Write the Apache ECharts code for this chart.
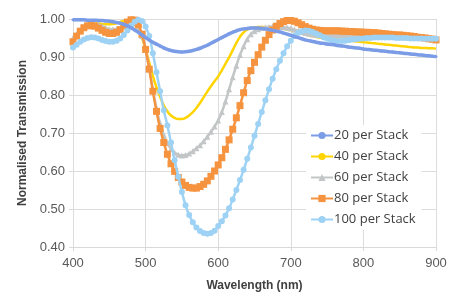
<!DOCTYPE html>
<html>
<head>
<meta charset="utf-8">
<script src="https://cdn.jsdelivr.net/npm/echarts@6/dist/echarts.min.js"></script>
<style>
html, body { margin: 0; padding: 0; background: #fff; }
#chart { width: 468px; height: 297px; }
</style>
</head>
<body>
<div id="chart"></div>
<script>
// wavelength grid, 5 nm steps
var wavelengths = [];
for (var w = 400; w <= 900; w += 5) wavelengths.push(w);

var xTicks = [400, 500, 600, 700, 800, 900];
var yTicks = [0.40, 0.50, 0.60, 0.70, 0.80, 0.90, 1.00];

var stack20 = [
	0.998, 0.998, 0.998, 0.998, 0.997, 0.997, 0.997, 0.996, 0.996, 0.995,
	0.994, 0.993, 0.991, 0.989, 0.986, 0.982, 0.977, 0.971, 0.965, 0.958,
	0.951, 0.945, 0.939, 0.934, 0.929, 0.924, 0.920, 0.917, 0.915, 0.914,
	0.913, 0.914, 0.915, 0.917, 0.920, 0.923, 0.927, 0.931, 0.936, 0.941,
	0.946, 0.951, 0.956, 0.961, 0.965, 0.969, 0.972, 0.974, 0.975, 0.976,
	0.976, 0.976, 0.975, 0.974, 0.972, 0.970, 0.968, 0.966, 0.963, 0.960,
	0.957, 0.954, 0.951, 0.948, 0.945, 0.943, 0.941, 0.939, 0.937, 0.936,
	0.934, 0.933, 0.932, 0.930, 0.929, 0.928, 0.926, 0.925, 0.924, 0.923,
	0.921, 0.920, 0.919, 0.918, 0.917, 0.916, 0.915, 0.914, 0.913, 0.912,
	0.911, 0.910, 0.909, 0.908, 0.907, 0.906, 0.905, 0.904, 0.903, 0.902,
	0.901
];
var stack40 = [
	0.948, 0.958, 0.968, 0.976, 0.982, 0.986, 0.988, 0.988, 0.987, 0.986,
	0.986, 0.987, 0.989, 0.992, 0.995, 0.997, 0.996, 0.990, 0.975, 0.950,
	0.920, 0.885, 0.850, 0.820, 0.795, 0.773, 0.757, 0.746, 0.740, 0.737,
	0.737, 0.740, 0.746, 0.755, 0.766, 0.779, 0.794, 0.809, 0.823, 0.836,
	0.849, 0.865, 0.882, 0.899, 0.918, 0.937, 0.953, 0.965, 0.972, 0.976,
	0.978, 0.979, 0.979, 0.979, 0.978, 0.978, 0.977, 0.976, 0.975, 0.973,
	0.971, 0.969, 0.966, 0.963, 0.960, 0.957, 0.955, 0.953, 0.951, 0.950,
	0.949, 0.948, 0.947, 0.946, 0.945, 0.944, 0.943, 0.942, 0.941, 0.940,
	0.939, 0.938, 0.937, 0.936, 0.935, 0.934, 0.933, 0.932, 0.931, 0.930,
	0.929, 0.928, 0.927, 0.926, 0.925, 0.925, 0.924, 0.924, 0.923, 0.923,
	0.922
];
var stack60 = [
	0.950, 0.960, 0.970, 0.978, 0.984, 0.987, 0.987, 0.985, 0.981, 0.977,
	0.974, 0.973, 0.974, 0.977, 0.982, 0.987, 0.990, 0.988, 0.978, 0.955,
	0.920, 0.870, 0.815, 0.765, 0.725, 0.695, 0.673, 0.658, 0.648, 0.643,
	0.641, 0.642, 0.646, 0.652, 0.660, 0.668, 0.678, 0.690, 0.703, 0.717,
	0.733, 0.755, 0.783, 0.815, 0.847, 0.877, 0.905, 0.928, 0.947, 0.960,
	0.968, 0.973, 0.976, 0.978, 0.979, 0.980, 0.980, 0.979, 0.978, 0.977,
	0.975, 0.972, 0.969, 0.966, 0.963, 0.961, 0.959, 0.958, 0.957, 0.957,
	0.957, 0.957, 0.957, 0.958, 0.958, 0.958, 0.958, 0.958, 0.958, 0.958,
	0.958, 0.958, 0.957, 0.957, 0.956, 0.956, 0.955, 0.955, 0.954, 0.954,
	0.953, 0.953, 0.952, 0.952, 0.951, 0.951, 0.950, 0.950, 0.949, 0.949,
	0.948
];
var stack80 = [
	0.940, 0.955, 0.968, 0.977, 0.982, 0.983, 0.981, 0.976, 0.970, 0.965,
	0.962, 0.962, 0.965, 0.972, 0.982, 0.992, 0.998, 0.997, 0.985, 0.960,
	0.920, 0.868, 0.810, 0.757, 0.712, 0.675, 0.644, 0.619, 0.599, 0.583,
	0.571, 0.562, 0.557, 0.555, 0.555, 0.559, 0.565, 0.574, 0.586, 0.600,
	0.616, 0.635, 0.657, 0.682, 0.710, 0.740, 0.772, 0.806, 0.838, 0.864,
	0.886, 0.906, 0.926, 0.944, 0.959, 0.971, 0.981, 0.988, 0.993, 0.996,
	0.996, 0.994, 0.990, 0.985, 0.980, 0.976, 0.973, 0.971, 0.970, 0.969,
	0.969, 0.969, 0.969, 0.969, 0.968, 0.968, 0.967, 0.967, 0.966, 0.966,
	0.965, 0.965, 0.964, 0.964, 0.963, 0.962, 0.961, 0.960, 0.959, 0.958,
	0.958, 0.957, 0.956, 0.955, 0.954, 0.952, 0.951, 0.950, 0.948, 0.947,
	0.945
];
var stack100 = [
	0.925, 0.932, 0.940, 0.946, 0.950, 0.952, 0.951, 0.949, 0.945, 0.942,
	0.940, 0.940, 0.943, 0.949, 0.958, 0.970, 0.983, 0.993, 0.998, 0.995,
	0.980, 0.955, 0.910, 0.860, 0.810, 0.760, 0.720, 0.675, 0.628, 0.585,
	0.545, 0.510, 0.484, 0.465, 0.451, 0.442, 0.437, 0.435, 0.437, 0.443,
	0.455, 0.468, 0.483, 0.502, 0.525, 0.550, 0.576, 0.603, 0.632, 0.662,
	0.693, 0.724, 0.755, 0.786, 0.815, 0.843, 0.868, 0.890, 0.910, 0.928,
	0.943, 0.955, 0.963, 0.968, 0.970, 0.969, 0.966, 0.962, 0.957, 0.952,
	0.948, 0.945, 0.943, 0.942, 0.942, 0.943, 0.944, 0.946, 0.947, 0.948,
	0.949, 0.950, 0.950, 0.951, 0.951, 0.951, 0.951, 0.951, 0.951, 0.950,
	0.950, 0.950, 0.950, 0.949, 0.949, 0.949, 0.949, 0.948, 0.948, 0.948,
	0.948
];

function pairs(vals) {
	return wavelengths.map(function(w, i) { return [w, vals[i]]; });
}

function makeSeries(name, vals, color, symbol, size, width, z) {
	return {
		name: name,
		type: 'line',
		smooth: true,
		data: pairs(vals),
		symbol: symbol,
		symbolSize: size,
		showSymbol: symbol !== 'none',
		z: z,
		lineStyle: { color: color, width: width },
		itemStyle: { color: color },
		emphasis: { disabled: true }
	};
}

var chart = echarts.init(document.getElementById('chart'), null, { renderer: 'canvas' });
chart.setOption({
	animation: false,
	backgroundColor: '#fff',
	textStyle: { fontFamily: 'Liberation Sans' },
	grid: { left: 73, right: 32, top: 19, bottom: 46 },
	legend: {
		orient: 'vertical',
		left: 306,
		top: 125,
		itemWidth: 22,
		itemHeight: 9,
		itemGap: 8,
		padding: [4, 6, 4, 4],
		backgroundColor: '#fff',
		textStyle: { fontFamily: 'Open Sans', fontSize: 13, color: '#404040', padding: [0, 0, 0, -4] },
		data: ['20 per Stack', '40 per Stack', '60 per Stack', '80 per Stack', '100 per Stack']
	},
	xAxis: {
		type: 'value',
		min: xTicks[0],
		max: xTicks[xTicks.length - 1],
		interval: 100,
		name: 'Wavelength (nm)',
		nameLocation: 'middle',
		nameGap: 33,
		nameTextStyle: { fontWeight: 'bold', fontSize: 12, color: '#404040' },
		axisLine: { lineStyle: { color: '#d9d9d9' } },
		axisTick: { show: true, length: 4, lineStyle: { color: '#d9d9d9' } },
		axisLabel: { fontSize: 13, color: '#595959', margin: 10 },
		splitLine: { show: true, lineStyle: { color: '#dcdcdc' } }
	},
	yAxis: {
		type: 'value',
		min: yTicks[0],
		max: yTicks[yTicks.length - 1],
		interval: 0.1,
		name: 'Normalised Transmission',
		nameLocation: 'middle',
		nameGap: 43,
		nameTextStyle: { fontWeight: 'bold', fontSize: 12, color: '#404040' },
		axisLine: { show: false },
		axisTick: { show: true, length: 4, lineStyle: { color: '#d9d9d9' } },
		axisLabel: { fontSize: 13, color: '#595959', margin: 8, formatter: function(v) { return v.toFixed(2); } },
		splitLine: { show: true, lineStyle: { color: '#dcdcdc' } }
	},
	series: [
		makeSeries('20 per Stack', stack20, '#7b9ce6', 'circle', 3, 3.5, 6),
		makeSeries('40 per Stack', stack40, '#ffd400', 'none', 0, 2.5, 3),
		makeSeries('60 per Stack', stack60, '#c3c6c6', 'triangle', 6, 2.5, 3),
		makeSeries('80 per Stack', stack80, '#f5933f', 'rect', 7, 2.5, 4),
		makeSeries('100 per Stack', stack100, '#9dd2f5', 'circle', 6, 2.5, 5)
	]
});
</script>
</body>
</html>
